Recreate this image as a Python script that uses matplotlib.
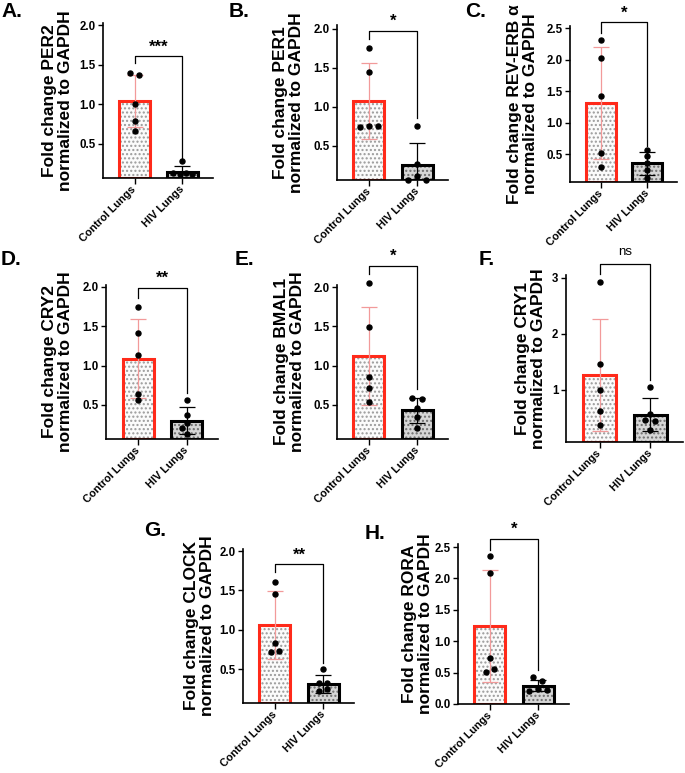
import matplotlib
matplotlib.use("Agg")
import matplotlib.pyplot as plt
import numpy as np

plt.rcParams['font.family'] = ['Liberation Sans', 'DejaVu Sans']
plt.rcParams['hatch.linewidth'] = 1.0

# ---------------- data ----------------
groups = ['Control Lungs', 'HIV Lungs']
genes = ['PER2', 'PER1', 'REV-ERB α', 'CRY2', 'BMAL1', 'CRY1', 'CLOCK', 'RORA']
letters = ['A.', 'B.', 'C.', 'D.', 'E.', 'F.', 'G.', 'H.']

control_points = [
    [1.39, 1.37, 1.01, 0.79, 0.66],
    [1.75, 1.455, 0.745, 0.75, 0.75],
    [2.31, 2.03, 1.42, 0.52, 0.30],
    [1.75, 1.41, 1.13, 0.64, 0.565],
    [2.05, 1.49, 0.85, 0.72, 0.54],
    [2.92, 1.47, 1.00, 0.63, 0.37],
    [1.61, 1.45, 0.835, 0.72, 0.725],
    [2.35, 2.085, 0.73, 0.51, 0.55],
]
hiv_points = [
    [0.28, 0.13, 0.12, 0.13, 0.12],
    [0.75, 0.27, 0.06, 0.12, 0.07],
    [0.57, 0.47, 0.35, 0.25, 0.12],
    [0.56, 0.37, 0.27, 0.21, 0.13],
    [0.58, 0.57, 0.465, 0.34, 0.20],
    [1.06, 0.57, 0.46, 0.45, 0.28],
    [0.50, 0.33, 0.33, 0.22, 0.25],
    [0.425, 0.365, 0.21, 0.245, 0.225],
]
control_mean = [1.04, 1.08, 1.31, 1.09, 1.12, 1.27, 1.06, 1.24]
control_sd = [0.33, 0.49, 0.895, 0.50, 0.62, 1.00, 0.43, 0.89]
hiv_mean = [0.15, 0.25, 0.35, 0.30, 0.43, 0.56, 0.31, 0.29]
hiv_sd = [0.07, 0.285, 0.18, 0.17, 0.16, 0.30, 0.11, 0.09]

significance = ['***', '*', '*', '**', '*', 'ns', '**', '*']
sig_bar_y = [1.605, 1.98, 2.59, 1.99, 2.27, 3.24, 1.83, 2.63]
sig_left_end = [1.52, 1.87, 2.42, 1.86, 2.16, 3.07, 1.73, 2.46]
sig_right_end = [0.30, 0.86, 0.62, 0.65, 0.70, 1.17, 0.58, 0.54]

y_ticks = [
    [0.5, 1.0, 1.5, 2.0],
    [0.5, 1.0, 1.5, 2.0],
    [0.5, 1.0, 1.5, 2.0, 2.5],
    [0.5, 1.0, 1.5, 2.0],
    [0.5, 1.0, 1.5, 2.0],
    [1, 2, 3],
    [0.5, 1.0, 1.5, 2.0],
    [0.0, 0.5, 1.0, 1.5, 2.0, 2.5],
]
y_tick_labels = [
    ['0.5', '1.0', '1.5', '2.0'],
    ['0.5', '1.0', '1.5', '2.0'],
    ['0.5', '1.0', '1.5', '2.0', '2.5'],
    ['0.5', '1.0', '1.5', '2.0'],
    ['0.5', '1.0', '1.5', '2.0'],
    ['1', '2', '3'],
    ['0.5', '1.0', '1.5', '2.0'],
    ['0.0', '0.5', '1.0', '1.5', '2.0', '2.5'],
]

# ---------------- layout (pixels) ----------------
W, H = 685, 773
# left, right, y-pixel of ylim bottom, px per unit
axes_px = [
    (103, 213, 178, 79.2),
    (337, 448, 180, 78.0),
    (570, 677, 182, 63.0),
    (106, 218, 439, 78.6),
    (337, 448, 439, 78.5),
    (566, 683, 442, 56.0),
    (243, 354, 703, 78.7),
    (458, 569, 704, 62.8),
]
y_lo = [0.07, 0.064, 0.056, 0.066, 0.064, 0.07, 0.07, 0.0]
y_hi = [2.03, 2.05, 2.53, 2.03, 2.03, 3.05, 2.03, 2.55]
ylabel_right_px = [73, 304, 538, 73, 305, 546, 215, 433]
letter_pos = [(1, 2), (229, 2), (465, 2), (1, 250), (235, 250), (479, 250), (144, 521), (365, 524)]

jit_ctrl = [
    [-0.09, 0.1, 0, 0, 0],
    [0, 0, -0.18, 0, 0.18],
    [0, 0, 0, 0, 0],
    [0, 0, 0, 0, 0],
    [0, 0, 0, 0, 0],
    [0, 0, 0, 0, 0],
    [0, 0, 0, -0.09, 0.09],
    [0, 0, 0, -0.09, 0.09],
]
jit_hiv = [
    [0, -0.19, -0.06, 0.07, 0.2],
    [0, 0, -0.18, 0, 0.18],
    [0, 0, 0, 0, 0],
    [0, 0, 0, -0.1, 0],
    [-0.1, 0.1, 0, 0, 0],
    [0, 0, -0.1, 0.09, 0],
    [0, -0.09, 0.09, -0.09, 0.09],
    [-0.1, 0.09, -0.19, 0, 0.18],
]

RED = '#FF2A1A'
PINK = '#F29A9A'

fig = plt.figure(figsize=(W / 100, H / 100), dpi=100)

for i in range(8):
    L, R, B, ppu = axes_px[i]
    top_px = B - (y_hi[i] - y_lo[i]) * ppu
    ax = fig.add_axes([L / W, 1 - B / H, (R - L) / W, (B - top_px) / H])
    ax.set_xlim(-0.66, 1.64)
    ax.set_ylim(y_lo[i], y_hi[i])
    x = np.arange(2)
    bw = 0.64
    means = [control_mean[i], hiv_mean[i]]
    base = y_lo[i]
    # hatched fills
    ax.bar(x[0], means[0] - base, bottom=base, width=bw, color='#fbfbfb',
           edgecolor='#9a9a9a', hatch='....', linewidth=0, zorder=1)
    ax.bar(x[1], means[1] - base, bottom=base, width=bw, color='#d6d6d6',
           edgecolor='#6e6e6e', hatch='....', linewidth=0, zorder=1)
    # outlines
    ax.bar(x[0], means[0] - base, bottom=base, width=bw, fill=False,
           edgecolor=RED, linewidth=2.2, zorder=2)
    ax.bar(x[1], means[1] - base, bottom=base, width=bw, fill=False,
           edgecolor='black', linewidth=2.2, zorder=2)
    # error bars
    ax.errorbar(x[0], control_mean[i], yerr=control_sd[i], fmt='none',
                ecolor=PINK, elinewidth=0.9, capsize=5.5, capthick=0.9, zorder=3)
    ax.errorbar(x[1], hiv_mean[i], yerr=hiv_sd[i], fmt='none',
                ecolor='black', elinewidth=0.9, capsize=5.5, capthick=0.9, zorder=3)
    # points
    ax.plot(x[0] + np.array(jit_ctrl[i]), control_points[i], 'o', color='black',
            markersize=3.6, zorder=4, clip_on=False)
    ax.plot(x[1] + np.array(jit_hiv[i]), hiv_points[i], 'o', color='black',
            markersize=3.6, zorder=4, clip_on=False)
    # significance bracket
    ax.plot([x[0], x[0], x[1], x[1]],
            [sig_left_end[i], sig_bar_y[i], sig_bar_y[i], sig_right_end[i]],
            color='black', linewidth=0.9, clip_on=False, zorder=5)
    if significance[i] == 'ns':
        ax.text(0.5, sig_bar_y[i] + 0.04 * (y_hi[i] - y_lo[i]), 'ns', ha='center', va='bottom',
                fontsize=9.5, clip_on=False)
    else:
        ax.text(0.5, sig_bar_y[i] + 0.012 * (y_hi[i] - y_lo[i]), significance[i], ha='center',
                va='bottom', fontsize=12, fontweight='bold', clip_on=False)
    # axes styling
    for s in ['top', 'right']:
        ax.spines[s].set_visible(False)
    for s in ['left', 'bottom']:
        ax.spines[s].set_linewidth(1.2)
    ax.set_xticks(x)
    ax.set_xticklabels(groups, rotation=45, ha='right', va='center', rotation_mode='anchor',
                       fontsize=7.8, fontweight='bold')
    ax.set_yticks(y_ticks[i])
    ax.set_yticklabels(y_tick_labels[i], fontsize=8.3, fontweight='bold')
    ax.tick_params(axis='y', width=1.0, length=3.5, pad=2)
    ax.tick_params(axis='x', width=1.0, length=4.0, pad=3)
    ax.set_ylabel('Fold change ' + genes[i] + '\nnormalized to GAPDH',
                  fontsize=12.5, fontweight='bold', linespacing=1.05)
    ax.yaxis.set_label_coords((ylabel_right_px[i] - L) / (R - L), 0.5)
    lx, ly = letter_pos[i]
    fig.text(lx / W, 1 - ly / H, letters[i], ha='left', va='top',
             fontsize=15, fontweight='bold')

fig.savefig('out.png', dpi=100)
